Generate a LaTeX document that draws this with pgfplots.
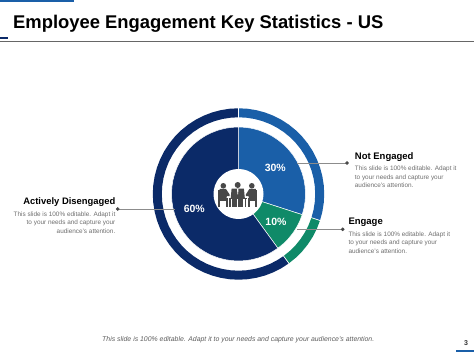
\documentclass[border=0pt]{standalone}
\usepackage{fontspec}
\setmainfont{Liberation Sans}
\usepackage{pgfplots}
\pgfplotsset{compat=1.18}
\definecolor{cblue}{HTML}{1A5FA8}
\definecolor{cnavy}{HTML}{0B2A68}
\definecolor{cgreen}{HTML}{0F8A68}
\definecolor{cbody}{HTML}{6E6E6E}
\definecolor{cicon}{HTML}{484848}
\definecolor{cline}{HTML}{8C8C8C}
\newcommand{\bodyA}{This slide is 100\% editable. Adapt it}
\newcommand{\bodyB}{to your needs and capture your}
\newcommand{\bodyC}{audience's attention.}
\begin{document}
\begin{tikzpicture}
\path[use as bounding box] (0,0) rectangle (474pt,355pt);
% donut: polar data around the origin
\begin{axis}[at={(0,0)},anchor=south west,scale only axis,width=474pt,height=355pt,
  xmin=-238.5,xmax=235.5,ymin=-161,ymax=194,hide axis,clip=false]
\addplot[data cs=polar,fill=cblue,draw=white,line width=0.5pt,no marks] coordinates {(0,0)
 (90,67)(84,67)(78,67)(72,67)(66,67)(60,67)(54,67)(48,67)(42,67)(36,67)(30,67)(24,67)(18,67)(12,67)(6,67)(0,67)(-6,67)(-12,67)(-18,67)} -- cycle;
\addplot[data cs=polar,fill=cgreen,draw=white,line width=0.5pt,no marks] coordinates {(0,0)
 (-18,67)(-24,67)(-30,67)(-36,67)(-42,67)(-48,67)(-54,67)} -- cycle;
\addplot[data cs=polar,fill=cnavy,draw=white,line width=0.5pt,no marks] coordinates {(0,0)
 (-54,67)(-60,67)(-66,67)(-72,67)(-78,67)(-84,67)(-90,67)(-96,67)(-102,67)(-108,67)(-114,67)(-120,67)(-126,67)(-132,67)(-138,67)(-144,67)(-150,67)(-156,67)(-162,67)(-168,67)(-174,67)(-180,67)(-186,67)(-192,67)(-198,67)(-204,67)(-210,67)(-216,67)(-222,67)(-228,67)(-234,67)(-240,67)(-246,67)(-252,67)(-258,67)(-264,67)(-270,67)} -- cycle;
\addplot[data cs=polar,fill=white,draw=none,no marks] coordinates {
 (0,25)(10,25)(20,25)(30,25)(40,25)(50,25)(60,25)(70,25)(80,25)(90,25)(100,25)(110,25)(120,25)(130,25)(140,25)(150,25)(160,25)(170,25)(180,25)(190,25)(200,25)(210,25)(220,25)(230,25)(240,25)(250,25)(260,25)(270,25)(280,25)(290,25)(300,25)(310,25)(320,25)(330,25)(340,25)(350,25)} -- cycle;
% outer ring
\addplot[data cs=polar,cblue,line width=9pt,no marks] coordinates {
 (90,81.2)(84,81.2)(78,81.2)(72,81.2)(66,81.2)(60,81.2)(54,81.2)(48,81.2)(42,81.2)(36,81.2)(30,81.2)(24,81.2)(18,81.2)(12,81.2)(6,81.2)(0,81.2)(-6,81.2)(-12,81.2)(-18,81.2)};
\addplot[data cs=polar,cgreen,line width=9pt,no marks] coordinates {
 (-18,81.2)(-24,81.2)(-30,81.2)(-36,81.2)(-42,81.2)(-48,81.2)(-54,81.2)};
\addplot[data cs=polar,cnavy,line width=9pt,no marks] coordinates {
 (-54,81.2)(-60,81.2)(-66,81.2)(-72,81.2)(-78,81.2)(-84,81.2)(-90,81.2)(-96,81.2)(-102,81.2)(-108,81.2)(-114,81.2)(-120,81.2)(-126,81.2)(-132,81.2)(-138,81.2)(-144,81.2)(-150,81.2)(-156,81.2)(-162,81.2)(-168,81.2)(-174,81.2)(-180,81.2)(-186,81.2)(-192,81.2)(-198,81.2)(-204,81.2)(-210,81.2)(-216,81.2)(-222,81.2)(-228,81.2)(-234,81.2)(-240,81.2)(-246,81.2)(-252,81.2)(-258,81.2)(-264,81.2)(-270,81.2)};
\addplot[data cs=polar,white,line width=0.7pt,no marks] coordinates {(90,76)(90,87)};
\addplot[data cs=polar,white,line width=0.7pt,no marks] coordinates {(-18,76)(-18,87)};
\addplot[data cs=polar,white,line width=0.7pt,no marks] coordinates {(-54,76)(-54,87)};
\end{axis}
% everything else in pixel coordinates of the reference
\begin{axis}[at={(0,0)},anchor=south west,scale only axis,width=474pt,height=355pt,
  xmin=0,xmax=474,ymin=0,ymax=355,y dir=reverse,hide axis,clip=false]
% header and footer rules
\addplot[color=cblue,line width=2.4pt,no marks] coordinates {(0,1.1)(74,1.1)};
\addplot[color=cnavy,line width=2pt,no marks] coordinates {(0,38.5)(8,38.5)};
\addplot[color=black!60,line width=0.8pt,no marks] coordinates {(0,41.3)(474,41.3)};
\addplot[color=cblue,line width=1.1pt,no marks] coordinates {(456,351)(474,351)};
% leaders
\addplot[color=cline,line width=0.6pt,mark=*,mark size=1.5pt,mark options={fill=cicon,draw=cicon},mark indices={2}] coordinates {(297,163)(347,163)};
\addplot[color=cline,line width=0.6pt,mark=*,mark size=1.5pt,mark options={fill=cicon,draw=cicon},mark indices={2}] coordinates {(297,229.3)(342.7,229.3)};
\addplot[color=cline,line width=0.6pt,mark=*,mark size=1.5pt,mark options={fill=cicon,draw=cicon},mark indices={2}] coordinates {(175,209)(117.7,209)};
% icon
\fill[cicon] (237.7,185) circle[radius=3];
\fill[cicon] (223.3,185.8) circle[radius=2.8];
\fill[cicon] (251.8,185.8) circle[radius=2.8];
\fill[cicon] (231.6,188.6) -- (243.9,188.6) -- (244.8,198) -- (230.7,198) -- cycle;
\fill[white] (237.2,189) -- (238.3,189) -- (238.2,194.5) -- (237.3,194.5) -- cycle;
\fill[cicon] (219.6,189) -- (226,189) -- (229.5,194.3) -- (229.5,196.2) -- (226.8,196.2) -- (226.4,199) -- (219.8,199) -- cycle;
\fill[cicon] (255.8,189) -- (249.4,189) -- (245.9,194.3) -- (245.9,196.2) -- (248.6,196.2) -- (249,199) -- (255.6,199) -- cycle;
\fill[cicon] (218.2,190) rectangle (220.2,207.5);
\fill[cicon] (255.2,190) rectangle (257.2,207.5);
\fill[cicon] (219,198.4) rectangle (228,200.6);
\fill[cicon] (247.5,198.4) rectangle (256.5,200.6);
\fill[cicon] (225.8,200) rectangle (227.6,207.5);
\fill[cicon] (247.9,200) rectangle (249.7,207.5);
\fill[cicon] (229,197.8) rectangle (246.5,199.4);
\fill[cicon] (229.3,199) rectangle (230.8,207.5);
\fill[cicon] (244.7,199) rectangle (246.2,207.5);
\fill[cicon] (232.2,199) rectangle (237.2,207.5);
\fill[cicon] (238.3,199) rectangle (243.3,207.5);
% labels
\node[anchor=west,inner sep=0pt,font=\fontsize{18.4}{18.4}\selectfont\bfseries] at (13,24) {Employee Engagement Key Statistics - US};
\node[text=white,font=\fontsize{10.5}{10.5}\selectfont\bfseries,inner sep=0pt] at (275.3,167.7) {30\%};
\node[text=white,font=\fontsize{10.5}{10.5}\selectfont\bfseries,inner sep=0pt] at (276,221.7) {10\%};
\node[text=white,font=\fontsize{10.5}{10.5}\selectfont\bfseries,inner sep=0pt] at (194.3,209.3) {60\%};
\node[anchor=west,inner sep=0pt,font=\fontsize{9.5}{9.5}\selectfont\bfseries] at (354.7,157) {Not Engaged};
\node[anchor=west,inner sep=0pt,font=\fontsize{9.5}{9.5}\selectfont\bfseries] at (348.3,222.7) {Engage};
\node[anchor=east,inner sep=0pt,font=\fontsize{9.4}{9.4}\selectfont\bfseries] at (115.5,202.3) {Actively Disengaged};
\foreach \tx/\ty/\tt in {354.7/169.3/\bodyA,354.7/177.5/\bodyB,354.7/185.7/\bodyC,348.3/235/\bodyA,348.3/243.2/\bodyB,348.3/251.4/\bodyC}{
 \edef\tmp{\noexpand\node[anchor=west,inner sep=0pt,text=cbody,font=\noexpand\fontsize{6.4}{6.4}\noexpand\selectfont] at (axis cs:\tx,\ty) {\expandafter\noexpand\tt};}\tmp
}
\foreach \ty/\tt in {215/\bodyA,223.2/\bodyB,231.4/\bodyC}{
 \edef\tmp{\noexpand\node[anchor=east,inner sep=0pt,text=cbody,font=\noexpand\fontsize{6.4}{6.4}\noexpand\selectfont] at (axis cs:115.5,\ty) {\expandafter\noexpand\tt};}\tmp
}
\node[anchor=west,inner sep=0pt,text=cbody!85!black,font=\fontsize{6.9}{6.9}\selectfont\itshape] at (102,340) {This slide is 100\% editable. Adapt it to your needs and capture your audience's attention.};
\node[inner sep=0pt,font=\fontsize{7}{7}\selectfont\bfseries,text=black!80] at (466,343.5) {3};
\end{axis}
\end{tikzpicture}
\end{document}
